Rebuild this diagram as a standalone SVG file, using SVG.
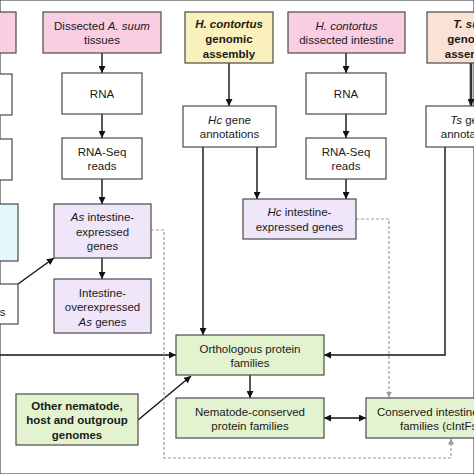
<svg xmlns="http://www.w3.org/2000/svg" width="474" height="474" viewBox="0 0 474 474">
<style>
text{font-family:"Liberation Sans",Arial,sans-serif;font-size:11.5px;fill:#1a1a1a;text-anchor:middle}
.b{font-weight:bold}
.i{font-style:italic}
rect{stroke:#4a4a4a;stroke-width:1.2}
.pk{fill:#f9cde2}
.wh{fill:#ffffff}
.ye{fill:#fbf1bc}
.pe{fill:#fbe2d6}
.pu{fill:#f0e6f9}
.bl{fill:#e2f6fc}
.gr{fill:#e3f3d0}
.c{fill:none;stroke:#111;stroke-width:1.4}
.d{fill:none;stroke:#9a9a9a;stroke-width:1.2;stroke-dasharray:3 2}
</style>
<defs>
<marker id="a" viewBox="0 0 10 10" refX="10" refY="5" markerWidth="7" markerHeight="7" markerUnits="userSpaceOnUse" orient="auto-start-reverse"><path d="M0,0L10,5L0,10z" fill="#111"/></marker>
<marker id="g" viewBox="0 0 10 10" refX="10" refY="5" markerWidth="6" markerHeight="6" markerUnits="userSpaceOnUse" orient="auto"><path d="M0,0L10,5L0,10z" fill="#9a9a9a"/></marker>
</defs>
<rect x="0" y="0" width="474" height="474" fill="#fff" stroke="none"/>
<g id="connectors">
<path class="c" d="M18,284L54,258" marker-end="url(#a)"/>
<path class="c" d="M0,355H176" marker-end="url(#a)"/>
<path class="c" d="M102,53V73" marker-end="url(#a)"/>
<path class="c" d="M102,114V138" marker-end="url(#a)"/>
<path class="c" d="M102,179V204" marker-end="url(#a)"/>
<path class="c" d="M102,258V279" marker-end="url(#a)"/>
<path class="c" d="M229,63V106" marker-end="url(#a)"/>
<path class="c" d="M203,147V335" marker-end="url(#a)"/>
<path class="c" d="M257,147V199" marker-end="url(#a)"/>
<path class="c" d="M346,53V73" marker-end="url(#a)"/>
<path class="c" d="M346,114V138" marker-end="url(#a)"/>
<path class="c" d="M346,179V199" marker-end="url(#a)"/>
<path class="c" d="M471,63V106" style="stroke-width:2.6;stroke:#333" marker-end="url(#a)"/>
<path class="c" d="M445,147V355H324" marker-end="url(#a)"/>
<path class="c" d="M138,420L191,376" marker-end="url(#a)"/>
<path class="c" d="M250,375V398" marker-end="url(#a)"/>
<path class="c" d="M324,418H366" marker-start="url(#a)" marker-end="url(#a)"/>
<path class="d" d="M151,230H164V458H451V438.5" marker-end="url(#g)"/>
<path class="d" d="M356,219H389V397.5" marker-end="url(#g)"/>
</g>
<g id="left-pink"><rect class="pk" x="-2" y="12" width="18" height="41"/></g>
<g id="left-white1"><rect class="wh" x="-2" y="74" width="14" height="41"/></g>
<g id="left-white2"><rect class="wh" x="-2" y="139" width="14" height="41"/></g>
<g id="left-blue"><rect class="bl" x="-2" y="204" width="20" height="57"/></g>
<g id="left-white3"><rect class="wh" x="-2" y="284" width="20" height="40"/><text x="5.5" y="316" style="text-anchor:end">s</text></g>
<g id="as-tissues"><rect class="pk" x="43" y="12" width="118" height="41"/><text x="102" y="29.5">Dissected <tspan class="i">A. suum</tspan></text><text x="102" y="44">tissues</text></g>
<g id="as-rna"><rect class="wh" x="62" y="73" width="80" height="41"/><text x="102" y="98">RNA</text></g>
<g id="as-reads"><rect class="wh" x="62" y="138" width="80" height="41"/><text x="102" y="155.5">RNA-Seq</text><text x="102" y="170">reads</text></g>
<g id="as-expressed"><rect class="pu" x="54" y="204" width="97" height="54"/><text x="102.5" y="220.5"><tspan class="i">As</tspan> intestine-</text><text x="102.5" y="235.5">expressed</text><text x="102.5" y="250">genes</text></g>
<g id="as-over"><rect class="pu" x="54" y="279" width="97" height="54"/><text x="102.5" y="296.5">Intestine-</text><text x="102.5" y="311">overexpressed</text><text x="102.5" y="325.5"><tspan class="i">As</tspan> genes</text></g>
<g id="hc-genome"><rect class="ye" x="185" y="12" width="88" height="51"/><text class="b" x="229" y="28"><tspan class="i">H. contortus</tspan></text><text class="b" x="229" y="43">genomic</text><text class="b" x="229" y="57.5">assembly</text></g>
<g id="hc-annot"><rect class="wh" x="183" y="106" width="93" height="41"/><text x="229.5" y="123.5"><tspan class="i">Hc</tspan> gene</text><text x="229.5" y="138">annotations</text></g>
<g id="hc-tissue"><rect class="pk" x="288" y="12" width="117" height="41"/><text x="346.5" y="29.5" class="i">H. contortus</text><text x="346.5" y="44">dissected intestine</text></g>
<g id="hc-rna"><rect class="wh" x="306" y="73" width="80" height="41"/><text x="346" y="98">RNA</text></g>
<g id="hc-reads"><rect class="wh" x="306" y="138" width="80" height="41"/><text x="346" y="155.5">RNA-Seq</text><text x="346" y="170">reads</text></g>
<g id="hc-expressed"><rect class="pu" x="243" y="199" width="113" height="40"/><text x="299.5" y="216"><tspan class="i">Hc</tspan> intestine-</text><text x="299.5" y="230.5">expressed genes</text></g>
<g id="ts-genome"><rect class="pe" x="427" y="12" width="88" height="51"/><text class="b i" x="471" y="28">T. suis</text><text class="b" x="471" y="43">genomic</text><text class="b" x="471" y="57.5">assembly</text></g>
<g id="ts-annot"><rect class="wh" x="426" y="106" width="93" height="41"/><text x="470.5" y="123.5"><tspan class="i">Ts</tspan> gene</text><text x="470.5" y="138">annotations</text></g>
<g id="ortho"><rect class="gr" x="176" y="335" width="148" height="40"/><text x="250" y="352.5">Orthologous protein</text><text x="250" y="367">families</text></g>
<g id="nematode"><rect class="gr" x="176" y="398" width="148" height="40"/><text x="250" y="415.5">Nematode-conserved</text><text x="250" y="430">protein families</text></g>
<g id="cintf"><rect class="gr" x="366" y="398" width="120" height="40"/><text x="377" y="415.5" style="text-anchor:start">Conserved intestine</text><text x="400" y="430" style="text-anchor:start">families (cIntFs)</text></g>
<g id="other"><rect class="gr" x="16" y="394" width="122" height="51"/><text class="b" x="77" y="409.5">Other nematode,</text><text class="b" x="77" y="424">host and outgroup</text><text class="b" x="77" y="438.5">genomes</text></g>
</svg>
